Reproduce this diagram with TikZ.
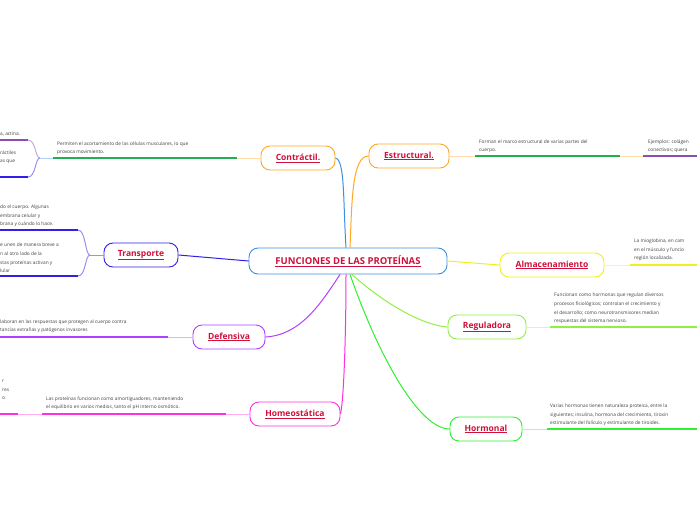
\documentclass[tikz,border=0pt]{standalone}
\usepackage{fontspec}
\setmainfont{Open Sans}
\newcommand{\ul}[1]{\underline{#1}}
\begin{document}
\begin{tikzpicture}[x=1pt,y=-1pt,
  topic/.style={draw=#1,line width=0.9pt,rounded corners=9pt,fill=white,minimum height=24pt,inner sep=0pt,font=\fontsize{8.5}{9}\selectfont\bfseries\color{cRd}},
  txt/.style={anchor=south west,align=left,inner sep=0pt,font=\fontsize{4.8}{8.6}\selectfont\color{black!75}},
  ln/.style={line width=1.3pt,#1},
  br/.style={line width=1pt,#1}]
\useasboundingbox (0,0) rectangle (697,520);
\clip (0,0) rectangle (697,520);
\definecolor{cRd}{HTML}{D0103A}
\definecolor{cOr}{HTML}{FFA826}\definecolor{cBl}{HTML}{3D8FE0}\definecolor{cTr}{HTML}{3320E8}
\definecolor{cYe}{HTML}{F0F020}\definecolor{cDe}{HTML}{B040FF}\definecolor{cRe}{HTML}{90F040}
\definecolor{cHo}{HTML}{FF30E0}\definecolor{cHr}{HTML}{30EE30}\definecolor{cGr}{HTML}{20B050}\definecolor{cPu}{HTML}{8E4EB0}
\node[topic=cBl,minimum width=198pt,minimum height=26pt,font=\fontsize{9.5}{10}\selectfont\bfseries\color{cRd}] (c) at (348,261) {\ul{FUNCIONES DE LAS PROTEÍNAS}};
\node[topic=cOr,minimum width=74pt] (con) at (298,158) {\ul{Contráctil.}};
\node[topic=cOr,minimum width=80pt] (est) at (409,156) {\ul{Estructural.}};
\node[topic=cTr,minimum width=74pt] (tra) at (141,255) {\ul{Transporte}};
\node[topic=cYe,minimum width=104pt] (alm) at (552,265) {\ul{Almacenamiento}};
\node[topic=cDe,minimum width=72pt] (def) at (229,337) {\ul{Defensiva}};
\node[topic=cRe,minimum width=78pt] (reg) at (487,327) {\ul{Reguladora}};
\node[topic=cHo,minimum width=90pt] (hom) at (295,414) {\ul{Homeostática}};
\node[topic=cHr,minimum width=72pt] (hor) at (486,429) {\ul{Hormonal}};
\draw[br=cBl] ([xshift=-2pt]c.north) .. controls (343,200) and (345,160) .. (con.east);
\draw[br=cOr] ([xshift=2pt]c.north) .. controls (352,200) and (352,156) .. (est.west);
\draw[br=cTr] (c.west) -- (tra.east);
\draw[br=cYe] (c.east) -- (alm.west);
\draw[br=cDe] ([xshift=-8pt]c.south) .. controls (320,305) and (300,335) .. (def.east);
\draw[br=cRe] ([xshift=4pt]c.south) .. controls (380,300) and (420,325) .. (reg.west);
\draw[br=cHo] ([xshift=-2pt]c.south) .. controls (346,330) and (344,400) .. (hom.east);
\draw[br=cHr] ([xshift=2pt]c.south) .. controls (380,360) and (420,429) .. (hor.west);
% Contractil
\draw[br=cOr!40] (con.west) -- (237,158); \draw[ln=cGr] (237,158) -- (53,158); \draw[br=cBl!40] (53,158) -- (40,158);
\draw[br=cPu!50] (40,158) .. controls (35,158) and (36,140) .. (28,140); \draw[ln=cPu] (28,140) -- (0,140);
\draw[br=cTr!50] (40,158) .. controls (35,158) and (36,177) .. (28,177); \draw[ln=cTr] (28,177) -- (0,177);
\node[txt] at (57,155) {Permiten el acortamiento de las células musculares, lo que\\provoca movimiento.};
\node[txt] at (0,136) {a, actina.};
\node[txt] at (0,164) {ráctiles\\as que};
% Transporte
\draw[br=cTr!50] (tra.west) -- (90,255);
\draw[br=cTr!50] (90,255) .. controls (85,255) and (86,230) .. (78,230); \draw[ln=cTr] (78,230) -- (0,230);
\draw[br=cTr!50] (90,255) .. controls (85,255) and (86,276) .. (78,276); \draw[ln=cTr] (78,276) -- (0,276);
\node[txt] at (0,227) {do el cuerpo. Algunas\\embrana celular y\\brana y cuándo lo hace.};
\node[txt] at (0,273) {e unen de manera breve a\\n al otro lado de la\\stas proteínas activan y\\lular};
% Defensiva
\draw[br=cDe!40] (def.west) -- (168,337); \draw[ln=cDe] (168,337) -- (0,337);
\node[txt] at (0,333) {laboran en las respuestas que protegen al cuerpo contra\\tancias extrañas y patógenos invasores};
% Homeostatica
\draw[br=cHo!40] (hom.west) -- (226,414); \draw[ln=cHo] (226,414) -- (42,414);
\draw[br=cHo!40] (42,414) -- (18,414); \draw[ln=cHo] (18,414) -- (0,414);
\node[txt] at (46,410) {Las proteínas funcionan como amortiguadores, manteniendo\\el equilibrio en varios medios, tanto el pH interno osmótico.};
\node[txt] at (2,400) {r\\res\\o};
% Estructural
\draw[br=cOr!40] (est.east) -- (475,156); \draw[ln=cGr] (475,156) -- (620,156);
\draw[br=cOr!40] (620,156) -- (643,156); \draw[ln=cPu] (643,156) -- (697,156);
\node[txt] at (479,153) {Forman el marco estructural de varias partes del\\cuerpo.};
\node[txt] at (648,153) {Ejemplos: colágen\\conectivos; quera};
% Almacenamiento
\draw[br=cYe!50] (alm.east) -- (630,265); \draw[ln=cYe] (630,265) -- (697,265);
\node[txt] at (634,261) {La mioglobina, en cam\\en el músculo y funcio\\región localizada.};
% Reguladora
\draw[br=cRe!40] (reg.east) -- (550,327); \draw[ln=cRe] (550,327) -- (697,327);
\node[txt] at (554,324) {Funcionan como hormonas que regulan diversos\\procesos fisiológicos; controlan el crecimiento y\\el desarrollo; como neurotransmisores median\\respuestas del sistema nervioso.};
% Hormonal
\draw[br=cHr!40] (hor.east) -- (547,429); \draw[ln=cHr] (547,429) -- (697,429);
\node[txt] at (550,426) {Varias hormonas tienen naturaleza proteica, entre la\\siguientes; insulina, hormona del crecimiento, tiroxin\\estimulante del folículo y estimulante de tiroides.};
\end{tikzpicture}
\end{document}
